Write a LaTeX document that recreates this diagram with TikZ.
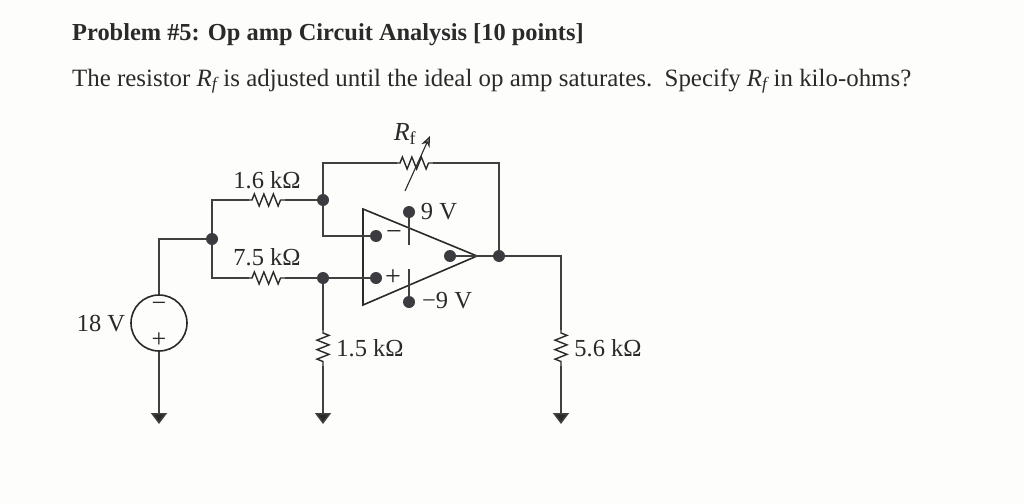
\documentclass[tikz,border=0pt]{standalone}
\usepackage{fontspec}
\setmainfont{Liberation Serif}
\usetikzlibrary{decorations.pathmorphing,arrows.meta}
\definecolor{ink}{HTML}{2A2A2A}
\definecolor{wirec}{HTML}{404040}
\definecolor{dotc}{HTML}{3C3C40}
\definecolor{paper}{HTML}{FDFDFC}
\tikzset{
  wire/.style={draw=wirec,line width=1.5pt},
  opline/.style={draw=ink,line width=1.6pt},
  res/.style={draw=ink,line width=1.4pt,decorate,decoration={zigzag,amplitude=6pt,segment length=9.5pt,pre length=3pt,post length=3pt}},
  dotn/.style={circle,fill=dotc,draw=none,minimum size=12pt,inner sep=0pt},
  gnd/.style={wire,-{Triangle[length=11pt,width=16pt,fill=ink]}},
  lab/.style={text=ink,font=\fontsize{24.5}{26}\selectfont,inner sep=0pt},
  para/.style={text=ink,anchor=base west,inner sep=0pt},
  src/.style={circle,draw=ink,line width=1.6pt,minimum size=56pt,inner sep=0pt}
}
\begin{document}
\begin{tikzpicture}[x=1pt,y=-1pt]
\useasboundingbox[fill=paper] (0,0) rectangle (1024,503);
\node[para,font=\bfseries\fontsize{24.4}{26}\selectfont] (title) at (72,41) {Problem \#5: Op amp Circuit Analysis [10 points]};
\node[para,font=\fontsize{24.9}{28}\selectfont] (body) at (72,86) {The resistor \textit{R\textsubscript{f}} is adjusted until the ideal op amp saturates.\ \ Specify \textit{R\textsubscript{f}} in kilo-ohms?};

% junctions and terminals
\node[dotn] (j1) at (323,200) {};
\node[dotn] (j2) at (212,239) {};
\node[dotn] (j3) at (323,278) {};
\node[dotn] (j4) at (499,256) {};
\node[dotn] (minus) at (376,236) {};
\node[dotn] (plus) at (376,278) {};
\node[dotn] (out) at (450,256) {};
\node[dotn] (vp) at (409,212) {};
\node[dotn] (vm) at (409,302) {};
\node[src] (vs) at (159,323) {};

\coordinate (tl) at (363,209);
\coordinate (bl) at (363,305);
\coordinate (tip) at (477,256);
\coordinate (rfa) at (397,163);
\coordinate (rfb) at (433,163);
\coordinate (r1a) at (249,200);
\coordinate (r1b) at (285,200);
\coordinate (r2a) at (249,278);
\coordinate (r2b) at (285,278);
\coordinate (r3a) at (323,330);
\coordinate (r3b) at (323,366);
\coordinate (r4a) at (561,330);
\coordinate (r4b) at (561,366);
\coordinate (g1) at (159,424);
\coordinate (g2) at (323,424);
\coordinate (g3) at (561,424);
\coordinate (vpe) at (409,245);
\coordinate (vme) at (409,269);
\coordinate (ara) at (405,191);
\coordinate (arb) at (430,136);

% op amp
\draw[opline,line join=miter] (tl) -- (tip) -- (bl) -- cycle;

% wires
\draw[wire] (j1) -- (j1 |- rfa) -- (rfa);
\draw[wire] (rfb) -- (j4 |- rfb) -- (j4);
\draw[res] (rfa) -- (rfb);
\draw[wire] (j2) -- (j2 |- r1a) -- (r1a);
\draw[res] (r1a) -- (r1b);
\draw[wire] (r1b) -- (j1);
\draw[wire] (j2) -- (j2 |- r2a) -- (r2a);
\draw[res] (r2a) -- (r2b);
\draw[wire] (r2b) -- (j3);
\draw[wire] (j3) -- (plus);
\draw[wire] (j1) -- (j1 |- minus) -- (minus);
\draw[wire] (j2) -- (vs.north |- j2) -- (vs.north);
\draw[gnd] (vs.south) -- (g1);
\draw[wire] (out) -- (j4);
\draw[wire] (j4) -- (r4a |- j4) -- (r4a);
\draw[res] (r4a) -- (r4b);
\draw[gnd] (r4b) -- (g3);
\draw[wire] (j3) -- (r3a);
\draw[res] (r3a) -- (r3b);
\draw[gnd] (r3b) -- (g2);
\draw[wire] (vp) -- (vpe);
\draw[wire] (vm) -- (vme);
\draw[draw=ink,line width=1.1pt,-{Stealth[length=11pt,width=9pt,fill=gray]}] (ara) -- (arb);

% source signs
\node[lab,font=\fontsize{26}{28}\selectfont] (sm) at (159,307) {−};
\node[lab,font=\fontsize{26}{28}\selectfont] (sp) at (159,340) {+};

% labels
\node[lab,font=\itshape\fontsize{26}{28}\selectfont] (rf) at (405,134) {R\textsubscript{\upshape f}};
\node[lab] (l1) at (267,180) {1.6 kΩ};
\node[lab] (l2) at (267,257) {7.5 kΩ};
\node[lab] (l3) at (370,348) {1.5 kΩ};
\node[lab] (l4) at (608,348) {5.6 kΩ};
\node[lab] (l5) at (101,324) {18 V};
\node[lab] (l6) at (439,212) {9 V};
\node[lab] (l7) at (447,301) {−9 V};
\node[lab,font=\fontsize{28}{30}\selectfont] (lm) at (394,235) {−};
\node[lab,font=\fontsize{28}{30}\selectfont] (lp) at (393,278) {+};
\end{tikzpicture}
\end{document}
